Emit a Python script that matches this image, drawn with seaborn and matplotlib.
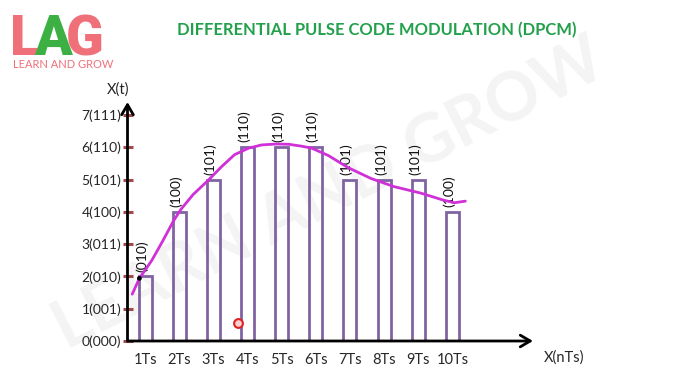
import matplotlib
matplotlib.use("Agg")
import pandas as pd
import matplotlib.pyplot as plt
import seaborn as sns

# ─────────────────────────────────────────────
# DONNÉES
# ─────────────────────────────────────────────

SAMPLES  = ["1Ts", "2Ts", "3Ts", "4Ts", "5Ts", "6Ts", "7Ts", "8Ts", "9Ts", "10Ts"]
LEVELS   = [2, 4, 5, 6, 6, 6, 5, 5, 5, 4]
CODES    = ["(010)", "(100)", "(101)", "(110)", "(110)", "(110)",
            "(101)", "(101)", "(101)", "(100)"]

Y_TICKS  = [0, 1, 2, 3, 4, 5, 6, 7]
Y_LABELS = ["0(000)", "1(001)", "2(010)", "3(011)",
            "4(100)", "5(101)", "6(110)", "7(111)"]

# signal analogique x(t) (courbe magenta), x en position d'échantillon
CURVE_X = [-0.38, -0.17, 0.19, 0.51, 0.83, 1.05, 1.40, 1.85, 2.24, 2.62, 3.03,
           3.41, 3.85, 4.21, 4.59, 4.88, 5.37, 5.94, 6.62, 7.29, 8.07, 8.74,
           9.06, 9.38]
CURVE_Y = [1.45, 1.94, 2.49, 3.09, 3.72, 4.08, 4.53, 4.98, 5.40, 5.77, 5.97,
           6.07, 6.10, 6.09, 6.03, 5.97, 5.74, 5.37, 5.03, 4.78, 4.58, 4.36,
           4.28, 4.33]

# points isolés : point noir du début, pointeur rouge
DOT_X, DOT_Y = [-0.17], [1.94]
PTR_X, PTR_Y = [2.72], [0.56]

PURPLE  = "#8064a2"
MAGENTA = "#d030d8"
TICKRED = "#a24a4a"
GREEN   = "#22a04b"
PINK    = "#f0707a"

# ─────────────────────────────────────────────
# FIGURE
# ─────────────────────────────────────────────

sns.set_theme(style="white")
plt.rcParams["font.family"] = ["Lato", "DejaVu Sans"]

W, H = 686, 386
fig = plt.figure(figsize=(W / 100, H / 100), dpi=100)

def fx(px):
    return px / W

def fy(py):
    return 1 - py / H

# filigrane "LEARN AND GROW" (derrière tout)
fig.text(fx(330), fy(195), "LEARN AND GROW", rotation=27, fontsize=48,
         fontweight="bold", color="#f4f4f4", ha="center", va="center", zorder=-5)

# logo
for letter, cx, col in [("L", 25, PINK), ("A", 53, "#3cb043"), ("G", 85, PINK)]:
    fig.text(fx(cx), fy(55), letter, fontsize=40, fontweight="heavy",
             color=col, ha="center", va="baseline", family="Roboto")
fig.text(fx(63), fy(64), "LEARN AND GROW", fontsize=8, color=PINK,
         ha="center", va="center")

fig.text(fx(377), fy(30), "DIFFERENTIAL PULSE CODE MODULATION (DPCM)",
         fontsize=11.9, fontweight="bold", color=GREEN, ha="center", va="center")

# axes : y=0 à 341 px, 32.3 px par niveau, pas de 34.13 px entre échantillons
left, right, bottom, top = 127.5, 533, 341, 102
ax = fig.add_axes([fx(left), fy(bottom), fx(right - left), (bottom - top) / H])
ax.patch.set_alpha(0)

df = pd.DataFrame({"sample": SAMPLES, "level": LEVELS})
sns.barplot(data=df, x="sample", y="level", ax=ax, width=0.38,
            facecolor="none", edgecolor=PURPLE, linewidth=2.0, zorder=2)

for k, (lvl, code) in enumerate(zip(LEVELS, CODES)):
    ax.text(k - 0.1, lvl + 0.15, code, rotation=90, ha="center", va="bottom",
            fontsize=10, color="#111111", zorder=3)

sns.lineplot(x=CURVE_X, y=CURVE_Y, ax=ax, color=MAGENTA, linewidth=2.0,
             sort=False, zorder=4)
sns.scatterplot(x=DOT_X, y=DOT_Y, ax=ax, color="black", s=12, zorder=5,
                edgecolor="none")
sns.scatterplot(x=PTR_X, y=PTR_Y, ax=ax, s=40, facecolor="#ffd0d0",
                edgecolor="#e02020", linewidth=1.5, zorder=5)

x0 = (left - 145.2) / 34.13
x1 = (right - 145.2) / 34.13
ax.set_xlim(x0, x1)
ax.set_ylim(0, (bottom - top) / 32.3)

ax.set_yticks(Y_TICKS)
ax.set_yticklabels(Y_LABELS, fontsize=10)
ax.tick_params(axis="y", direction="inout", length=7, width=2.2,
               color=TICKRED, pad=1, left=True)
ax.tick_params(axis="x", length=0, pad=9, labelsize=10.5)
ax.set_xlabel("")
ax.set_ylabel("")
for s in ax.spines.values():
    s.set_visible(False)

# axes fléchés
arrow = dict(arrowstyle="->,head_length=0.6,head_width=0.35", lw=2, color="black",
             shrinkA=0, shrinkB=0)
ax.annotate("", xy=(1, 0), xytext=(0, 0), xycoords="axes fraction",
            arrowprops=arrow, zorder=6, annotation_clip=False)
ax.annotate("", xy=(0, 1), xytext=(0, 0), xycoords="axes fraction",
            arrowprops=arrow, zorder=6, annotation_clip=False)

fig.text(fx(118), fy(90), "X(t)", fontsize=10.5, ha="center", va="center")
fig.text(fx(564), fy(358), "X(nTs)", fontsize=10.5, ha="center", va="center")

fig.savefig("out.png", dpi=100)
